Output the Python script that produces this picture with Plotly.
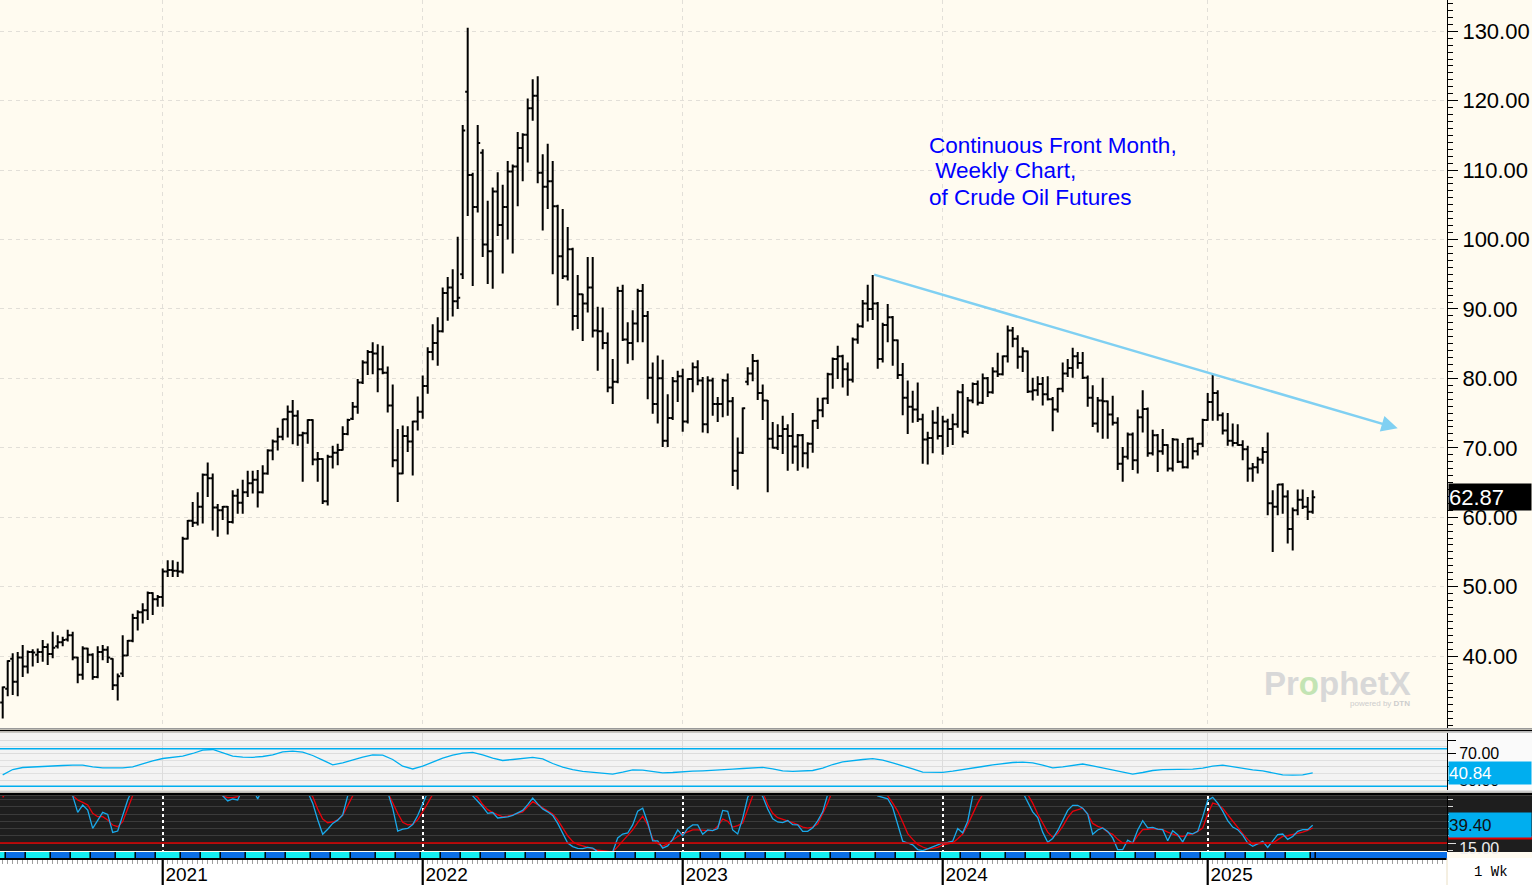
import pandas as pd
import plotly.graph_objects as go
from plotly.subplots import make_subplots

# ---------------- data (weekly bars) ----------------
FIRST_WEEK = "2020-05-25"   # Monday of the first weekly bar

OPEN = [
    33.3, 35.3, 39.6, 36.3, 39.8, 38.5, 40.6, 40.2, 40.6, 41.3,
    40.3, 41.4, 42.0, 42.4, 43.0, 39.8, 37.3, 41.1, 40.2, 37.0,
    40.6, 40.9, 39.6, 35.8, 37.5, 40.1, 42.2, 45.5, 46.3, 46.6,
    49.1, 48.2, 48.5, 52.2, 52.4, 52.3, 52.2, 56.9, 59.5, 59.2,
    61.5, 66.1, 65.6, 61.4, 61.0, 61.5, 59.3, 63.1, 62.1, 63.6,
    64.9, 65.4, 63.6, 66.3, 69.6, 70.9, 71.6, 74.1, 75.2, 74.6,
    71.8, 72.1, 74.0, 68.3, 68.4, 62.3, 68.7, 69.3, 69.7, 72.0,
    74.2, 75.9, 79.4, 82.3, 83.8, 83.6, 81.3, 80.8, 76.1, 68.2,
    66.3, 71.7, 70.9, 73.8, 75.2, 78.9, 83.8, 85.1, 86.8, 92.3,
    93.1, 91.1, 95.0, 121.3, 109.3, 104.7, 112.5, 99.3, 98.3, 106.9,
    102.1, 104.7, 109.8, 110.5, 113.2, 115.1, 118.9, 120.7, 109.6, 107.6,
    108.4, 104.8, 97.6, 94.7, 98.6, 89.0, 92.1, 90.8, 93.1, 86.9,
    86.8, 85.1, 78.7, 79.5, 92.6, 85.6, 85.1, 87.9, 92.6, 89.0,
    80.1, 76.3, 80.0, 71.0, 74.3, 79.6, 80.3, 73.8, 79.9, 81.6,
    79.7, 73.4, 79.7, 76.3, 76.3, 79.7, 76.7, 66.7, 69.3, 79.5,
    80.7, 82.5, 77.9, 76.8, 71.3, 70.0, 71.7, 72.7, 71.7, 70.2,
    71.8, 69.2, 70.6, 73.9, 75.4, 77.1, 80.6, 82.8, 83.2, 81.3,
    79.8, 85.6, 87.5, 90.8, 90.0, 90.8, 82.8, 87.7, 88.8, 85.5,
    80.5, 77.2, 75.9, 75.5, 74.1, 71.2, 71.4, 73.6, 71.7, 73.8,
    72.7, 73.4, 78.0, 72.3, 76.8, 79.2, 76.5, 80.0, 78.0, 81.0,
    80.6, 83.2, 86.9, 85.7, 83.1, 83.9, 78.1, 78.3, 79.2, 77.7,
    77.0, 75.5, 78.5, 80.7, 81.5, 83.2, 82.2, 80.1, 77.2, 73.5,
    76.8, 76.7, 74.8, 73.6, 67.7, 68.7, 71.9, 68.2, 74.4, 75.6,
    69.2, 71.8, 69.5, 70.4, 67.0, 71.2, 68.0, 67.2, 71.3, 69.5,
    70.6, 74.0, 76.6, 77.9, 74.7, 72.5, 71.0, 70.7, 70.4, 69.8,
    67.0, 67.2, 68.3, 69.4, 62.0, 61.5, 64.7, 63.0, 58.3, 61.0,
    62.5, 61.5, 60.8,
]

HIGH = [
    35.6, 39.4, 40.4, 40.6, 41.6, 40.8, 41.0, 41.1, 42.3, 41.8,
    43.5, 43.0, 42.8, 43.8, 43.5, 39.9, 41.4, 41.2, 40.4, 41.4,
    41.6, 41.4, 39.7, 37.5, 43.0, 42.3, 46.1, 46.6, 47.6, 49.3,
    49.2, 48.8, 52.6, 53.8, 53.8, 53.6, 57.2, 59.6, 62.2, 63.6,
    66.3, 67.9, 66.3, 61.9, 61.6, 61.6, 63.9, 64.1, 65.4, 66.7,
    66.7, 66.8, 67.5, 69.8, 71.2, 72.9, 74.2, 76.1, 76.9, 75.4,
    72.3, 74.1, 74.1, 69.4, 68.5, 69.0, 70.3, 70.6, 73.1, 74.2,
    76.6, 79.9, 82.6, 84.1, 85.2, 84.9, 84.7, 81.7, 79.1, 72.7,
    73.2, 73.1, 73.9, 77.4, 80.4, 84.5, 87.8, 88.8, 93.1, 94.6,
    95.7, 100.4, 116.5, 130.5, 109.6, 116.5, 113.0, 105.6, 107.5, 109.7,
    107.9, 111.3, 110.8, 115.5, 115.3, 120.3, 123.1, 123.5, 112.3, 113.8,
    111.3, 105.0, 104.4, 101.8, 98.8, 94.9, 92.2, 97.5, 97.5, 90.3,
    90.2, 86.6, 82.8, 93.2, 93.5, 88.1, 89.8, 92.9, 93.6, 89.7,
    82.3, 83.3, 82.7, 77.7, 80.2, 81.1, 81.4, 80.0, 82.3, 82.6,
    80.2, 80.3, 80.1, 77.3, 79.9, 80.7, 77.3, 71.5, 75.8, 81.6,
    83.5, 82.7, 79.1, 76.9, 73.7, 73.4, 74.6, 73.4, 75.0, 72.0,
    72.0, 70.8, 74.0, 77.2, 77.2, 80.8, 83.0, 84.7, 83.4, 82.3,
    85.9, 87.9, 91.3, 93.5, 94.9, 91.0, 88.0, 90.7, 89.0, 85.6,
    82.2, 79.7, 78.2, 79.4, 74.9, 72.3, 75.4, 75.9, 74.6, 74.2,
    74.9, 78.3, 79.2, 77.3, 79.4, 79.7, 80.7, 80.2, 81.6, 83.7,
    83.3, 87.6, 87.4, 86.2, 84.5, 84.0, 80.1, 80.3, 80.2, 80.3,
    77.3, 78.6, 82.3, 82.8, 84.4, 83.8, 83.8, 80.4, 79.0, 77.3,
    80.1, 76.8, 77.5, 74.4, 70.1, 72.2, 72.2, 75.5, 78.3, 75.8,
    72.6, 72.0, 72.7, 70.5, 71.4, 71.3, 70.7, 71.4, 71.5, 70.7,
    74.2, 77.9, 80.6, 78.3, 75.1, 75.0, 73.5, 73.4, 71.1, 70.3,
    67.8, 68.7, 70.1, 72.2, 63.9, 64.8, 64.9, 63.9, 61.4, 64.0,
    64.0, 62.9, 63.9,
]

LOW = [
    31.0, 34.2, 34.4, 34.2, 37.0, 37.5, 38.5, 39.0, 39.2, 38.7,
    39.7, 41.1, 41.4, 42.1, 39.4, 36.1, 36.6, 39.0, 36.6, 36.8,
    39.4, 39.0, 35.1, 33.6, 37.0, 40.0, 42.0, 43.7, 44.7, 45.2,
    45.9, 47.1, 47.1, 51.4, 51.4, 51.4, 51.9, 56.8, 58.6, 58.8,
    59.1, 62.9, 58.1, 57.2, 59.6, 57.5, 59.1, 60.5, 60.5, 62.9,
    63.4, 61.4, 63.4, 66.1, 68.2, 69.6, 71.1, 71.5, 70.5, 70.3,
    65.1, 70.6, 67.5, 65.1, 61.9, 61.7, 67.0, 67.5, 69.6, 71.8,
    74.0, 74.9, 79.2, 80.5, 80.6, 78.0, 80.6, 75.1, 67.2, 62.2,
    66.2, 69.4, 66.0, 72.5, 74.2, 77.8, 82.6, 81.8, 86.6, 88.3,
    88.9, 90.0, 94.3, 103.4, 93.3, 103.9, 97.5, 93.6, 92.9, 100.5,
    95.1, 100.0, 98.0, 104.8, 108.4, 111.1, 117.1, 108.1, 101.3, 104.4,
    95.0, 90.5, 94.3, 94.1, 86.9, 87.1, 85.4, 89.5, 85.9, 81.1,
    84.2, 78.0, 76.3, 79.3, 85.4, 82.1, 82.6, 85.2, 85.2, 77.0,
    74.9, 73.5, 70.1, 70.1, 74.0, 76.6, 72.3, 73.5, 78.0, 79.0,
    72.2, 72.1, 74.6, 73.7, 74.4, 74.6, 64.5, 64.0, 69.1, 79.0,
    79.6, 76.9, 74.0, 63.6, 69.9, 69.7, 69.1, 66.7, 67.7, 66.7,
    67.2, 67.0, 69.3, 72.7, 74.4, 76.3, 78.5, 79.9, 78.7, 77.5,
    79.4, 85.0, 87.3, 88.2, 88.4, 81.4, 82.3, 85.2, 81.8, 79.9,
    74.7, 72.0, 73.6, 73.7, 67.7, 67.6, 69.2, 71.2, 69.0, 70.1,
    70.4, 72.9, 71.5, 72.0, 76.4, 76.1, 76.3, 77.3, 77.8, 80.2,
    80.4, 82.3, 84.5, 81.4, 80.9, 77.9, 76.8, 77.5, 76.1, 76.8,
    72.4, 75.1, 78.0, 80.2, 80.1, 81.4, 79.9, 75.9, 73.0, 72.2,
    71.3, 71.3, 73.2, 66.8, 65.1, 68.3, 66.8, 66.3, 72.2, 68.7,
    68.9, 66.5, 69.0, 66.6, 66.6, 67.8, 67.0, 67.0, 68.3, 68.9,
    70.1, 73.9, 73.9, 73.9, 71.9, 70.3, 70.2, 70.3, 68.2, 65.1,
    65.1, 66.3, 67.7, 60.3, 55.0, 60.3, 60.5, 56.2, 55.2, 60.3,
    61.2, 59.6, 60.5,
]

CLOSE = [
    35.5, 39.3, 36.3, 39.8, 38.5, 40.6, 40.5, 40.6, 41.3, 40.3,
    41.2, 42.0, 42.3, 43.0, 39.8, 37.3, 41.1, 40.2, 37.0, 40.6,
    40.9, 39.8, 35.8, 37.1, 40.1, 42.2, 45.5, 46.3, 46.6, 49.1,
    48.2, 48.5, 52.2, 52.4, 52.3, 52.2, 56.9, 59.5, 59.2, 61.5,
    66.1, 65.6, 61.4, 61.0, 61.5, 59.3, 63.1, 62.1, 63.6, 64.9,
    65.4, 63.6, 66.3, 69.6, 70.9, 71.6, 74.1, 75.2, 74.6, 71.8,
    72.1, 74.0, 68.3, 68.4, 62.3, 68.7, 69.3, 69.7, 72.0, 74.0,
    75.9, 79.4, 82.3, 83.8, 83.6, 81.3, 80.8, 76.1, 68.2, 66.3,
    71.7, 70.9, 73.8, 75.2, 78.9, 83.8, 85.1, 86.8, 92.3, 93.1,
    91.1, 91.6, 115.7, 109.3, 104.7, 113.9, 99.3, 98.3, 106.9, 102.1,
    104.7, 109.8, 110.5, 113.2, 115.1, 118.9, 120.7, 109.6, 107.6, 108.4,
    104.8, 97.6, 94.7, 98.6, 89.0, 92.1, 90.8, 93.1, 86.9, 86.8,
    85.1, 78.7, 79.5, 92.6, 85.6, 85.1, 87.9, 92.6, 89.0, 80.1,
    76.3, 80.0, 71.0, 74.3, 79.6, 80.3, 73.8, 79.9, 81.6, 79.7,
    73.4, 79.7, 76.3, 76.3, 79.7, 76.7, 66.7, 69.3, 75.7, 80.7,
    82.5, 77.9, 76.8, 71.3, 70.0, 71.7, 72.7, 71.7, 70.2, 71.8,
    69.2, 70.6, 73.9, 75.4, 77.1, 80.6, 82.8, 83.2, 81.3, 79.8,
    85.6, 87.5, 90.8, 90.0, 90.8, 82.8, 87.7, 88.8, 85.5, 80.5,
    77.2, 75.9, 75.5, 74.1, 71.2, 71.4, 73.6, 71.7, 73.8, 72.7,
    73.4, 78.0, 72.3, 76.8, 79.2, 76.5, 80.0, 78.0, 81.0, 80.6,
    83.2, 86.9, 85.7, 83.1, 83.9, 78.1, 78.3, 79.2, 77.7, 77.0,
    75.5, 78.5, 80.7, 81.5, 83.2, 82.2, 80.1, 77.2, 73.5, 76.8,
    76.7, 74.8, 73.6, 67.7, 68.7, 71.9, 68.2, 74.4, 75.6, 69.2,
    71.8, 69.5, 70.4, 67.0, 71.2, 68.0, 67.2, 71.3, 69.5, 70.6,
    74.0, 76.6, 77.9, 74.7, 72.5, 71.0, 70.7, 70.4, 69.8, 67.0,
    67.2, 68.3, 69.4, 62.0, 61.5, 64.7, 63.0, 58.3, 61.0, 62.5,
    61.5, 60.8, 62.87,
]

# RSI panel, read every second week
RSI_2WK = [
    38, 46, 49, 50, 50.5, 51.5, 52, 52.5, 52.5, 50,
    48.5, 48.5, 48.5, 50, 55, 59, 62.5, 64, 66, 70,
    75, 76, 71, 66, 64.5, 64.3, 65.5, 68, 72.5, 73.7,
    72, 67, 60, 53, 56, 60.5, 64.5, 67.8, 67.5, 61,
    51, 46.8, 51, 57, 63, 67.5, 70.5, 71.8, 68, 63,
    59.5, 61, 62.5, 64.3, 62, 55, 49.5, 45.7, 43.2, 41.5,
    40.5, 39.2, 42, 45.5, 45, 42.5, 41, 41.5, 42.8, 43.5,
    44, 44.5, 45.5, 46.5, 47.5, 48.5, 49.2, 47, 44, 43.2,
    44, 44.5, 48, 53.5, 57.5, 59.5, 61, 62.2, 60, 56,
    52, 47, 42, 41.5, 41.8, 43.5, 45.5, 47.8, 50.5, 53,
    55, 56.5, 57.2, 56, 52.5, 48.5, 50, 52.5, 54.2, 51.5,
    48.5, 45, 41.5, 39.2, 41.5, 44.5, 45.7, 46, 45.5, 46.5,
    48.2, 51, 52.5, 50, 47.5, 45.5, 43.8, 41, 38, 37.5,
    38, 40.84,
]

# Stochastic panel (%K blue, %D red), weekly
STOCH_K = [
    90, 90, 90, 90, 90, 90, 90, 90, 90, 90,
    90, 90, 90, 90, 80, 57.3, 67.4, 60.5, 35.2, 46.7,
    57.3, 54.5, 29.7, 31.5, 53.6, 74.3, 90, 90, 90, 90,
    90, 90, 90, 90, 90, 90, 90, 90, 90, 90,
    90, 90, 90, 90, 80, 73, 75.7, 74.3, 90, 90,
    90, 75.7, 90, 90, 90, 90, 90, 90, 90, 90,
    90, 85, 70, 47, 27, 34, 42, 46.5, 53.6, 80,
    90, 90, 90, 90, 90, 90, 90, 85, 63, 31.5,
    34, 35, 40.5, 53, 68, 85, 90, 90, 90, 90,
    90, 90, 90, 90, 80, 73, 65, 56, 57, 49.5,
    50, 51, 53, 57, 60, 68, 77, 69, 62, 58,
    53, 42, 29, 15, 10, 7.5, 7.2, 9, 8, 3,
    2.6, 2.6, 2.6, 22, 27.4, 28.8, 40, 59, 63, 43,
    18, 18, 8, 11, 20, 33, 25, 35, 40, 40,
    27, 33, 32, 35, 60, 58.7, 33, 27.4, 49, 78,
    90, 90, 79, 62, 48.5, 44, 43, 46, 40.3, 40,
    31, 31, 36, 45.5, 58, 82, 90, 90, 90, 90,
    90, 90, 90, 90, 90, 80, 78, 76, 64, 41,
    17.5, 15, 12.5, 6, 4.5, 7, 10, 12, 15, 16,
    17.5, 35, 29, 45, 80, 90, 90, 90, 90, 90,
    90, 90, 90, 90, 85, 72, 58, 50, 30, 16,
    21, 32, 47, 60, 67, 67, 63, 55, 27, 33,
    35.7, 31, 22, 6, 6, 19, 15, 33, 45.8, 36,
    36.6, 34, 33.4, 18, 32, 26.5, 16.5, 29, 27.5, 31,
    51, 74, 78, 70, 59, 46, 37, 33.4, 26, 15,
    10.4, 13.6, 17.3, 9, 17.3, 26.5, 27.4, 20, 24, 31,
    33.4, 33.4, 39.4,
]

STOCH_D = [
    78, 88, 88, 88, 88, 88, 88, 88, 88, 88,
    88, 88, 88, 88, 80.3, 74.3, 71.1, 67.4, 55.9, 51.3,
    51.3, 46.7, 39.8, 37.5, 44.4, 62.8, 80.3, 88, 88, 88,
    88, 88, 88, 88, 88, 88, 88, 88, 88, 88,
    88, 88, 88, 88, 80, 77.5, 77.5, 79, 88, 88,
    88, 88, 88, 88, 88, 88, 88, 88, 88, 88,
    88, 88, 79, 62, 48, 43, 44, 47, 53, 67,
    80, 88, 88, 88, 88, 88, 88, 85, 70, 56,
    43.5, 40, 41, 47, 58, 70, 82, 88, 88, 88,
    88, 88, 88, 88, 82, 78, 68, 61, 57, 54.5,
    51, 52, 54, 55.5, 58, 65, 72, 68, 64, 59,
    55, 47, 35, 25, 17, 13, 11, 9.5, 7, 5,
    4, 3, 2.8, 10, 18, 25, 33, 43, 52, 40,
    21, 14, 10.5, 14, 19.5, 24, 27.5, 30, 33, 33,
    32, 32, 32, 38, 48, 45, 37, 39, 42.5, 60,
    80, 90, 85, 68, 56, 50, 48, 46, 43, 40.5,
    37, 35.5, 37, 41, 55, 70, 88, 88, 88, 88,
    88, 88, 88, 88, 88, 88, 84, 80, 70, 59,
    44, 28, 20, 13, 9.5, 7, 7.5, 9, 12.5, 14,
    15, 21, 27.4, 40, 55, 70, 82, 88, 88, 88,
    88, 88, 88, 88, 90, 82, 70, 55, 42, 30,
    23, 28, 38, 50, 58.7, 61, 63, 55, 42, 38,
    35.7, 30, 27, 20, 15, 15, 15, 25, 33.4, 34,
    34.8, 34, 33.4, 30, 27.4, 25, 24.2, 26, 27.4, 31,
    35.7, 55, 70, 68, 63, 54, 45, 37, 28, 20,
    13.6, 14, 15, 15, 15, 19, 24, 25, 26.5, 28,
    30, 32.5, 35.7,
]

YEAR_STARTS = ["2021-01-04", "2022-01-03", "2023-01-02", "2024-01-01", "2025-01-06"]
YEAR_LABELS = ["2021", "2022", "2023", "2024", "2025"]
PRICE_TICKS = [40, 50, 60, 70, 80, 90, 100, 110, 120, 130]
RSI_TICKS = [30, 50, 70, 90]
RSI_TICK_TEXT = ["30.00", "", "70.00", ""]
RSI_LEVELS = [77.2, 20.8]
STOCH_LEVEL = 15
TREND_DATES = ["2023-09-25", "2025-09-29"]
TREND_PRICES = [95.0, 72.8]
TITLE_LINES = ["Continuous Front Month,", "\u00a0Weekly Chart,", "of Crude Oil Futures"]

n = len(CLOSE)
assert len(OPEN) == n and len(HIGH) == n and len(LOW) == n
assert len(STOCH_K) == n and len(STOCH_D) == n
dates = pd.date_range(FIRST_WEEK, periods=n, freq="7D")
rsi_dates = dates[::2]
assert len(RSI_2WK) == len(rsi_dates)

# ---------------- styling ----------------
CREAM = "#fffbf0"
BLUE_IND = "#00aeef"
RED_IND = "#e8000b"
CYAN_RIB = "#14eef3"
BLUE_RIB = "#0b6fe6"
FONT = "Liberation Sans, Arial, sans-serif"

W, H = 1532, 885
ML, MR, MT, MB = 0, 85, 0, 27
PH = H - MT - MB          # plot height in px (858)
PW = W - ML - MR          # plot width in px (1447)


def fy(px):
    """pixel row -> paper y fraction"""
    return (PH - px) / PH


def fx(px):
    return px / PW


week = pd.Timedelta(days=7)
x_left = dates[0] - 0.54 * week
x_right = dates[0] + 288.86 * week

fig = make_subplots(rows=4, cols=1, shared_xaxes=True, vertical_spacing=0.0)

fig.add_trace(go.Ohlc(
    x=dates, open=OPEN, high=HIGH, low=LOW, close=CLOSE,
    increasing=dict(line=dict(color="#000000", width=2)),
    decreasing=dict(line=dict(color="#000000", width=2)),
    tickwidth=0.5, hoverinfo="skip", showlegend=False), row=1, col=1)

fig.add_trace(go.Scatter(x=rsi_dates, y=RSI_2WK, mode="lines",
                         line=dict(color=BLUE_IND, width=1.3),
                         hoverinfo="skip", showlegend=False), row=2, col=1)

fig.add_trace(go.Scatter(x=dates, y=STOCH_D, mode="lines",
                         line=dict(color=RED_IND, width=1.3),
                         hoverinfo="skip", showlegend=False), row=3, col=1)
fig.add_trace(go.Scatter(x=dates, y=STOCH_K, mode="lines",
                         line=dict(color="#1aa9ea", width=1.3),
                         hoverinfo="skip", showlegend=False), row=3, col=1)

# month ribbon
fridays = dates + pd.Timedelta(days=4)
rib_colors = [CYAN_RIB if m % 2 == 1 else BLUE_RIB for m in fridays.month]
fig.add_trace(go.Bar(x=dates, y=[1] * n, marker=dict(color=rib_colors, line=dict(width=0)),
                     width=7 * 86400000, hoverinfo="skip", showlegend=False), row=4, col=1)
sep_x, sep_y = [], []
for i in range(1, n):
    if fridays[i].month != fridays[i - 1].month:
        b = dates[i] - pd.Timedelta(days=3.5)
        sep_x += [b, b, None]
        sep_y += [0, 1, None]
b = dates[-1] + pd.Timedelta(days=3.5)
sep_x += [b, b, None]
sep_y += [0, 1, None]
fig.add_trace(go.Scatter(x=sep_x, y=sep_y, mode="lines", line=dict(color="#000", width=1.5),
                         hoverinfo="skip", showlegend=False), row=4, col=1)

shapes = []
# backgrounds
shapes.append(dict(type="rect", xref="x2 domain", yref="y2 domain", x0=0, x1=1, y0=0, y1=1,
                   fillcolor="#f3f3f3", line=dict(width=0), layer="below"))
shapes.append(dict(type="rect", xref="x3 domain", yref="y3 domain", x0=0, x1=1, y0=0, y1=1,
                   fillcolor="#1e1e1e", line=dict(width=0), layer="below"))
shapes.append(dict(type="rect", xref="paper", yref="y2 domain", x0=1, x1=W / PW, y0=-0.05, y1=1.05,
                   fillcolor="#fafafa", line=dict(width=0), layer="below"))
shapes.append(dict(type="rect", xref="paper", yref="y3 domain", x0=1, x1=W / PW, y0=-0.02, y1=1.0,
                   fillcolor="#1e1e1e", line=dict(width=0), layer="below"))
shapes.append(dict(type="rect", xref="paper", yref="paper", x0=0, x1=W / PW, y0=fy(H), y1=0,
                   fillcolor="#ffffff", line=dict(width=0), layer="below"))
# future part of the ribbon
shapes.append(dict(type="rect", xref="x4", yref="y4 domain", x0=dates[-1] + pd.Timedelta(days=3.5),
                   x1=x_right, y0=0, y1=1, fillcolor=BLUE_RIB, line=dict(width=0), layer="below"))
# panel separators
for ypx, col, wid in [(728.5, "#9a9a9a", 1), (730.5, "#000000", 1.6), (732.2, "#b0b0b0", 1),
                      (791.2, "#b5b5b5", 1), (794.2, "#000000", 3)]:
    shapes.append(dict(type="line", xref="paper", yref="paper", x0=0, x1=W / PW,
                       y0=fy(ypx), y1=fy(ypx), line=dict(color=col, width=wid), layer="above"))
# red strip under stochastic value box
shapes.append(dict(type="rect", xref="paper", yref="paper", x0=1.0007, x1=W / PW,
                   y0=fy(839.5), y1=fy(836), fillcolor="#e00000", line=dict(width=0), layer="above"))
# year ticks below the axis
for d in YEAR_STARTS:
    shapes.append(dict(type="line", xref="x4", yref="paper", x0=d, x1=d, y0=0, y1=fy(H),
                       line=dict(color="#000", width=2.2), layer="above"))
shapes.append(dict(type="line", xref="paper", yref="paper", x0=1, x1=1, y0=0, y1=fy(H),
                   line=dict(color="#eadfc4", width=1), layer="above"))
fig.update_layout(shapes=shapes)

# level lines
for lv in RSI_LEVELS:
    fig.add_hline(y=lv, line=dict(color=BLUE_IND, width=1.5), row=2, col=1)
fig.add_hline(y=STOCH_LEVEL, line=dict(color="#e00000", width=1.5), row=3, col=1)

# axes
common_x = dict(range=[x_left, x_right], tickvals=YEAR_STARTS, ticktext=YEAR_LABELS,
                showticklabels=False, ticks="", zeroline=False, rangeslider=dict(visible=False),
                fixedrange=True, automargin=False)
fig.update_xaxes(**common_x)
fig.update_layout(
    xaxis=dict(showgrid=True, gridcolor="#e2dfd8", griddash="4px,4px", gridwidth=1),
    xaxis2=dict(showgrid=True, gridcolor="#dcdcdc", gridwidth=1),
    xaxis3=dict(showgrid=True, gridcolor="#ffffff", griddash="3px,3px", gridwidth=1.5),
    xaxis4=dict(showgrid=False, showticklabels=True, ticklabelposition="outside right",
                tickfont=dict(size=19, color="#000", family=FONT), ticklabelstandoff=-2,
                ticklabelshift=2,
                showline=True, linecolor="#000", linewidth=1.5,
                minor=dict(ticks="outside", ticklen=4, tickcolor="#a0a0a0", tickwidth=1,
                           dtick=7 * 86400000, tick0=FIRST_WEEK, showgrid=False)),
)

fig.update_layout(
    yaxis=dict(domain=[fy(728), 1.0], side="right", range=[29.64, 134.5],
               tickvals=PRICE_TICKS, tickformat=".2f", ticks="outside", ticklen=10,
               tickcolor="#000", tickwidth=1, showline=True, linecolor="#000", linewidth=1,
               showgrid=True, gridcolor="#e2dfd8", griddash="4px,4px", zeroline=False,
               tickfont=dict(size=22, color="#000", family=FONT), fixedrange=True,
               automargin=False,
               minor=dict(dtick=1, ticks="outside", ticklen=5, tickcolor="#000", showgrid=False)),
    yaxis2=dict(domain=[fy(790), fy(733)], side="right", range=[15.25, 100.75],
                tickvals=RSI_TICKS, ticktext=RSI_TICK_TEXT, ticks="outside", ticklen=8,
                tickcolor="#000", showline=True, linecolor="#000", linewidth=1,
                showgrid=True, gridcolor="#dcdcdc", zeroline=False, fixedrange=True,
                automargin=False,
                tickfont=dict(size=16, color="#000", family=FONT),
                minor=dict(dtick=10, showgrid=True, gridcolor="#e0e0e0", ticks="")),
    yaxis3=dict(domain=[fy(851), fy(796)], side="right", range=[3.97, 79.83],
                tickvals=[STOCH_LEVEL], ticktext=["%.2f" % STOCH_LEVEL], ticks="outside", ticklen=8,
                tickcolor="#dddddd", showline=True, linecolor="#000", linewidth=1,
                showgrid=False, zeroline=False, fixedrange=True, ticklabelshift=5,
                automargin=False,
                tickfont=dict(size=16, color="#eeeeee", family=FONT),
                minor=dict(dtick=10, tick0=5, ticks="outside", ticklen=5, tickcolor="#d8d8d8",
                           showgrid=True, gridcolor="#3b3b3b")),
    yaxis4=dict(domain=[0.0, fy(852)], range=[0, 1], visible=False, fixedrange=True,
                automargin=False),
)

annotations = [
    # last-value boxes on the right axis
    dict(x=1, xref="paper", xanchor="left", xshift=1, y=CLOSE[-1], yref="y", yanchor="middle",
         text="%.2f" % CLOSE[-1], showarrow=False, bgcolor="#000000", width=82, height=26,
         align="left", borderpad=0, font=dict(size=22, color="#ffffff", family=FONT)),
    dict(x=1, xref="paper", xanchor="left", xshift=1, y=RSI_2WK[-1], yref="y2", yanchor="middle",
         text="%.2f" % RSI_2WK[-1], showarrow=False, bgcolor=BLUE_IND, width=82, height=22,
         align="left", borderpad=0, font=dict(size=17, color="#ffffff", family=FONT)),
    dict(x=1, xref="paper", xanchor="left", xshift=1, y=STOCH_K[-1], yref="y3", yanchor="middle",
         text="%.2f" % STOCH_K[-1], showarrow=False, bgcolor=BLUE_IND, width=82, height=24,
         align="left", borderpad=0, font=dict(size=17, color="#111111", family=FONT)),
    # trend line with arrow
    dict(x=TREND_DATES[1], y=TREND_PRICES[1], xref="x", yref="y",
         ax=TREND_DATES[0], ay=TREND_PRICES[0], axref="x", ayref="y",
         text="", showarrow=True, arrowhead=2, arrowsize=1.3, arrowwidth=2.5,
         arrowcolor="#80d0f2", standoff=0),
    # watermark
    dict(x=fx(1337), xref="paper", xanchor="center", y=fy(683), yref="paper", yanchor="middle",
         text="<b>Pr<span style='color:#c3e4b4'>o</span>phetX</b>", showarrow=False,
         font=dict(size=33, color="#d8d8d8", family=FONT)),
    dict(x=fx(1412), xref="paper", xanchor="right", y=fy(703), yref="paper", yanchor="middle",
         text="powered by <b>DTN</b>", showarrow=False,
         font=dict(size=8, color="#cdcdcd", family=FONT)),
    # period label
    dict(x=fx(1491), xref="paper", xanchor="center", y=fy(872), yref="paper", yanchor="middle",
         text="1 Wk", showarrow=False,
         font=dict(size=14, color="#000", family="Liberation Mono, Courier New, monospace")),
]
# chart note, one annotation per line for the tight line spacing of the original
for k, line in enumerate(TITLE_LINES):
    annotations.append(dict(x=fx(927), xref="paper", xanchor="left", y=fy(145 + 26 * k),
                            yref="paper", yanchor="middle", text=line, showarrow=False,
                            align="left", font=dict(size=22.5, color="#0000ff", family=FONT)))

fig.update_layout(
    width=W, height=H, margin=dict(l=ML, r=MR, t=MT, b=MB, pad=0, autoexpand=False),
    paper_bgcolor=CREAM, plot_bgcolor=CREAM, showlegend=False, bargap=0,
    hovermode=False, annotations=annotations,
    font=dict(family=FONT, color="#000"),
)

fig.write_html("out.html", config={"displayModeBar": False},
               post_script="document.body.style.margin='0px';")
